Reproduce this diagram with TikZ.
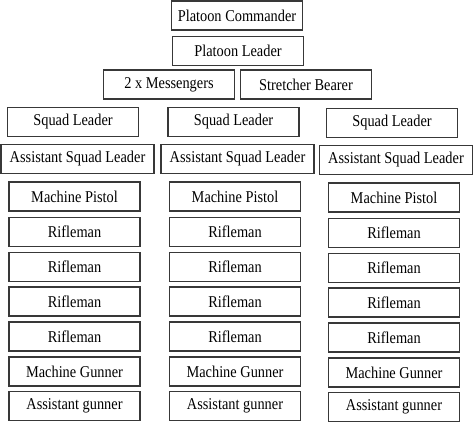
\documentclass[tikz,border=0pt]{standalone}
\usepackage{fontspec}
\setmainfont{Liberation Serif}[FakeStretch=0.87]
\begin{document}
\begin{tikzpicture}[x=1pt,y=-1pt,
  box/.style={draw=black!78,line width=1.3pt,fill=white,inner sep=0pt,
    minimum height=29pt,text=black,font=\fontsize{16.5}{18}\selectfont},
  topbox/.style={box,minimum width=131pt},
  colbox/.style={box,minimum width=131pt},
  asbox/.style={box,minimum width=153pt}]
\useasboundingbox (0,0) rectangle (474,423);
\node[topbox] (pc) at (237,15.5) {Platoon Commander};
\node[topbox] (pl) at (238,51) {Platoon Leader};
\node[topbox] (msg) at (169,84.5) {2 x Messengers};
\node[topbox] (sb) at (306,84.5) {Stretcher Bearer};
\node[colbox] (sl1) at (73,122) {Squad Leader};
\node[colbox] (sl2) at (233.5,122) {Squad Leader};
\node[colbox] (sl3) at (392,123) {Squad Leader};
\node[asbox] (asl1) at (77.5,159) {Assistant Squad Leader};
\node[asbox] (asl2) at (237.5,159) {Assistant Squad Leader};
\node[asbox] (asl3) at (396,160) {Assistant Squad Leader};
\foreach \c/\x/\dy in {1/74.5/0, 2/235/0, 3/394/1}{
  \node[colbox] (mp\c) at (\x,196.5+\dy) {Machine Pistol};
  \node[colbox] (ra\c) at (\x,232+\dy) {Rifleman};
  \node[colbox] (rb\c) at (\x,267+\dy) {Rifleman};
  \node[colbox] (rc\c) at (\x,301.5+\dy) {Rifleman};
  \node[colbox] (rd\c) at (\x,336.5+\dy) {Rifleman};
  \node[colbox] (mg\c) at (\x,371.5+\dy) {Machine Gunner};
  \node[colbox] (ag\c) at (\x,406+\dy) {Assistant gunner};
}
\end{tikzpicture}
\end{document}
